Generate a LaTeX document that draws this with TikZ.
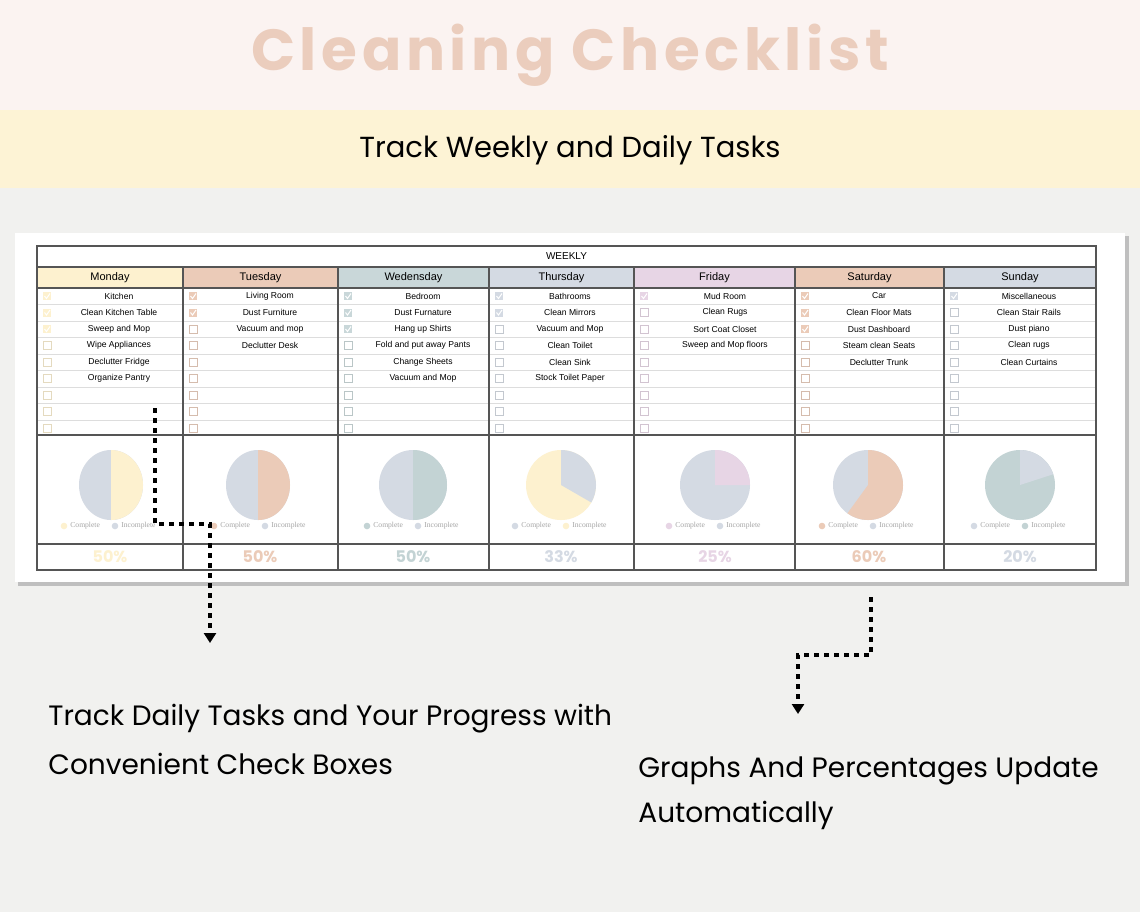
\documentclass[tikz,border=0pt]{standalone}
\usepackage{fontspec}
\setmainfont{Liberation Sans}
\newfontfamily\hand{Poppins}
\newfontfamily\serifs{Liberation Serif}
\usetikzlibrary{arrows.meta,shadows}
\definecolor{topbg}{HTML}{FBF3F1}
\definecolor{yelbg}{HTML}{FDF3D5}
\definecolor{paper}{HTML}{F1F1EF}
\definecolor{titlec}{HTML}{EBCDBD}
\definecolor{cYel}{HTML}{FDF1CF}
\definecolor{cPea}{HTML}{EBCBB8}
\definecolor{cTea}{HTML}{C3D3D4}
\definecolor{cGry}{HTML}{D4DAE3}
\definecolor{cPnk}{HTML}{E7D5E5}
\definecolor{cHdT}{HTML}{C9D7D9}
\definecolor{gridc}{HTML}{555555}
\definecolor{rowc}{HTML}{DDDDDD}
\tikzset{
 task/.style={font=\fontsize{4.3}{5}\selectfont, inner sep=0pt},
 hdr/.style={font=\fontsize{5}{6}\selectfont, inner sep=0pt},
 leg/.style={font=\serifs\fontsize{3.8}{4}\selectfont\color{gray!70}, inner sep=0pt, anchor=west},
 pct/.style={font=\hand\bfseries\fontsize{8}{9}\selectfont, inner sep=0pt},
 dotarrow/.style={line width=2pt, dash pattern=on 2.5pt off 2.5pt, -{Triangle[length=5pt,width=6pt]}},
 big/.style={font=\hand\fontsize{14}{16}\selectfont, inner sep=0pt, anchor=west},
}
\newcommand\tasklist[2]{%
 \foreach \t [count=\i] in {#2} {\node[task] at (#1+82,296+16.5*\i-16.5) {\t};}}
\newcommand\boxes[3]{% xleft, color, nchecked
 \foreach \i in {1,...,9} {
  \ifnum\i>#3\relax
   \draw[#2!80!gray, line width=0.4pt] (#1+6,300+16.5*\i-16.5) rectangle ++(8,-8);
  \else
   \fill[#2] (#1+6,300+16.5*\i-16.5) rectangle ++(8,-8);
   \draw[white,line width=0.5pt] (#1+7.5,296+16.5*\i-16.5) -- ++(2,2.5) -- ++(3.5,-5);
  \fi}}
\newcommand\legend[3]{% xcenter, colA, colB
 \fill[#2] (#1-46,526) circle (3.3); \node[leg] at (#1-40,526) {Complete};
 \fill[#3] (#1+5,526) circle (3.3); \node[leg] at (#1+11,526) {Incomplete};}
\begin{document}
\begin{tikzpicture}[x=0.5pt,y=-0.5pt]
\useasboundingbox (0,0) rectangle (1140,912);
\fill[paper] (0,188) rectangle (1140,912);
\fill[topbg] (0,0) rectangle (1140,110);
\fill[yelbg] (0,110) rectangle (1140,188);
\node[font=\hand\bfseries\fontsize{29}{32}\selectfont\addfontfeature{LetterSpace=8}, text=titlec] (title) at (570,55) {Cleaning Checklist};
\node[font=\hand\fontsize{14.5}{16}\selectfont] (sub) at (570,150) {Track Weekly and Daily Tasks};
% sheet
\fill[black!25] (18,236) rectangle (1129,586);
\fill[white] (15,233) rectangle (1125,582);
% header fills
\fill[cYel] (37,267) rectangle (183,288);
\fill[cPea] (183,267) rectangle (338,288);
\fill[cHdT] (338,267) rectangle (489,288);
\fill[cGry] (489,267) rectangle (634,288);
\fill[cPnk] (634,267) rectangle (795,288);
\fill[cPea] (795,267) rectangle (944,288);
\fill[cGry] (944,267) rectangle (1096,288);
\foreach \i in {1,...,8} \draw[rowc,line width=0.4pt] (37,288+16.5*\i) -- (1096,288+16.5*\i);
\draw[gridc,line width=0.6pt] (37,246) rectangle (1096,570);
\foreach \y in {267,288,435,544} \draw[gridc,line width=0.6pt] (37,\y) -- (1096,\y);
\foreach \x in {183,338,489,634,795,944} \draw[gridc,line width=0.6pt] (\x,267) -- (\x,570);
\node[hdr] (weekly) at (566.5,256.5) {WEEKLY};
\foreach \n/\x in {Monday/110,Tuesday/260.5,Wedensday/413.5,Thursday/561.5,Friday/714.5,Saturday/869.5,Sunday/1020}
  \node[hdr,font=\fontsize{5.5}{6}\selectfont] at (\x,277.5) {\n};
\boxes{37}{cYel}{3}
\boxes{183}{cPea}{2}
\boxes{338}{cHdT}{3}
\boxes{489}{cGry}{2}
\boxes{634}{cPnk}{1}
\boxes{795}{cPea}{3}
\boxes{944}{cGry}{1}
\tasklist{37}{Kitchen,Clean Kitchen Table,Sweep and Mop,Wipe Appliances,Declutter Fridge,Organize Pantry}
\tasklist{188}{Living Room,Dust Furniture,Vacuum and mop,Declutter Desk}
\tasklist{341}{Bedroom,Dust Furnature,Hang up Shirts,Fold and put away Pants,Change Sheets,Vacuum and Mop}
\tasklist{488}{Bathrooms,Clean Mirrors,Vacuum and Mop,Clean Toilet,Clean Sink,Stock Toilet Paper}
\tasklist{643}{Mud Room,Clean Rugs,Sort Coat Closet,Sweep and Mop floors}
\tasklist{797}{Car,Clean Floor Mats,Dust Dashboard,Steam clean Seats,Declutter Trunk}
\tasklist{947}{Miscellaneous,Clean Stair Rails,Dust piano,Clean rugs,Clean Curtains}
% pies (y axis flipped: visual angle t is math angle -t)
\fill[cGry] (111,485) ellipse (32 and 35); \fill[cYel] (111,450) arc (-90:90:32 and 35) -- cycle;
\fill[cGry] (258,485) ellipse (32 and 35); \fill[cPea] (258,450) arc (-90:90:32 and 35) -- cycle;
\fill[cGry] (413,485) ellipse (34 and 35); \fill[cTea] (413,450) arc (-90:90:34 and 35) -- cycle;
\fill[cYel] (561,485) circle (35); \fill[cGry] (561,485) -- (561,450) arc (-90:30:35) -- cycle;
\fill[cGry] (715,485) circle (35); \fill[cPnk] (715,485) -- (715,450) arc (-90:0:35) -- cycle;
\fill[cGry] (868,485) circle (35); \fill[cPea] (868,485) -- (868,450) arc (-90:126:35) -- cycle;
\fill[cTea] (1020,485) circle (35); \fill[cGry] (1020,485) -- (1020,450) arc (-90:-18:35) -- cycle;
\legend{110}{cYel}{cGry}\legend{260}{cPea}{cGry}\legend{413}{cTea}{cGry}\legend{561}{cGry}{cYel}
\legend{715}{cPnk}{cGry}\legend{868}{cPea}{cGry}\legend{1020}{cGry}{cTea}
\foreach \x/\c/\p in {110/cYel/50,260/cPea/50,413/cTea/50,561/cGry/33,715/cPnk/25,869/cPea/60,1020/cGry/20}
  \node[pct,text=\c] at (\x,557) {\p\%};
% arrows
\coordinate (a1) at (155,408); \coordinate (a2) at (210,643);
\coordinate (b1) at (871,597); \coordinate (b2) at (798,714);
\draw[dotarrow] (a1) |- (210,524) -- (a2);
\draw[dotarrow] (b1) |- (798,655) -- (b2);
\node[big] (t1) at (48,719) {Track Daily Tasks and Your Progress with};
\node[big] (t2) at (48,764) {Convenient Check Boxes};
\node[big] (t3) at (638,771) {Graphs And Percentages Update};
\node[big] (t4) at (638,815) {Automatically};
\end{tikzpicture}
\end{document}
